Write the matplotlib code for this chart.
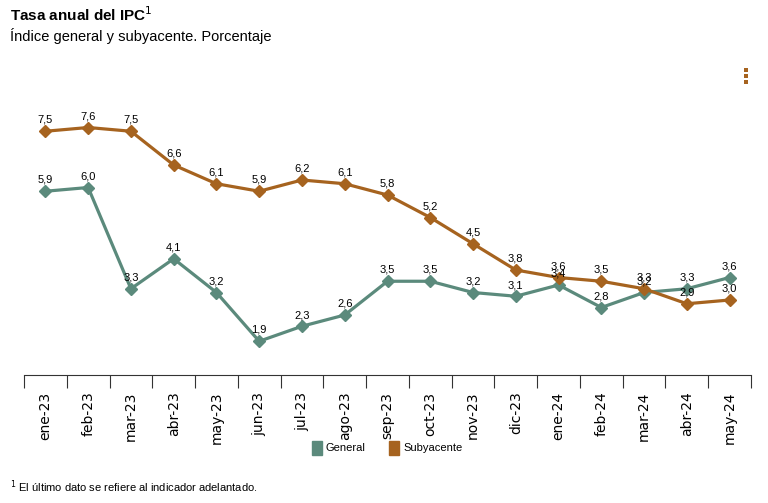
import numpy as np
import matplotlib.pyplot as plt
from matplotlib.patches import Rectangle

meses = ['ene-23', 'feb-23', 'mar-23', 'abr-23', 'may-23', 'jun-23', 'jul-23', 'ago-23',
         'sep-23', 'oct-23', 'nov-23', 'dic-23', 'ene-24', 'feb-24', 'mar-24', 'abr-24', 'may-24']
general = [5.9, 6.0, 3.3, 4.1, 3.2, 1.9, 2.3, 2.6, 3.5, 3.5, 3.2, 3.1, 3.4, 2.8, 3.2, 3.3, 3.6]
subyacente = [7.5, 7.6, 7.5, 6.6, 6.1, 5.9, 6.2, 6.1, 5.8, 5.2, 4.5, 3.8, 3.6, 3.5, 3.3, 2.9, 3.0]

c_gen = '#5b8a7c'
c_sub = '#a6631f'

fig = plt.figure(figsize=(7.68, 5.03), dpi=100)
ax = fig.add_axes([24 / 768, 1 - 375 / 503, 727 / 768, 300 / 503])

x = np.arange(len(meses))
ax.plot(x, general, color=c_gen, lw=2.3, marker='D', ms=6.5, zorder=3)
ax.plot(x, subyacente, color=c_sub, lw=2.3, marker='D', ms=6.5, zorder=3)

for serie in (general, subyacente):
    for xi, v in zip(x, serie):
        ax.annotate(f'{v:.1f}'.replace('.', ','), (xi, v), xytext=(0, 4.5),
                    textcoords='offset points', ha='center', va='bottom', fontsize=8,
                    family='Liberation Sans', zorder=4)

ax.set_xlim(-0.5, len(meses) - 0.5)
ax.set_ylim(1, 9)
for s in ['top', 'right', 'left']:
    ax.spines[s].set_visible(False)
ax.spines['bottom'].set_color('#333333')
ax.set_yticks([])
ax.set_xticks(np.arange(-0.5, len(meses), 1.0))
ax.set_xticklabels([])
ax.tick_params(axis='x', length=9, color='#333333', width=0.8)
ax.set_xticks(x, minor=True)
ax.set_xticklabels(meses, minor=True, rotation=90, fontsize=10, family='DejaVu Sans')
ax.tick_params(axis='x', which='minor', length=0, pad=12)

# leyenda
fig.patches.append(Rectangle((312 / 768, 1 - 455 / 503), 10 / 768, 14 / 503,
                             transform=fig.transFigure, color=c_gen))
fig.text(326 / 768, 1 - 448 / 503, 'General', fontsize=8, va='center',
         family='Liberation Sans')
fig.patches.append(Rectangle((389 / 768, 1 - 455 / 503), 10 / 768, 14 / 503,
                             transform=fig.transFigure, color=c_sub))
fig.text(403 / 768, 1 - 448 / 503, 'Subyacente', fontsize=8, va='center',
         family='Liberation Sans')

fig.text(10 / 768, 1 - 15 / 503, 'Tasa anual del IPC$^{1}$', fontsize=11, weight='bold',
         va='center', family='Liberation Sans')
fig.text(10 / 768, 1 - 36 / 503, 'Índice general y subyacente. Porcentaje', fontsize=10.5,
         va='center', family='Liberation Sans')
fig.text(10 / 768, 1 - 487 / 503, '$^{1}$ El último dato se refiere al indicador adelantado.',
         fontsize=8, va='center', family='Liberation Sans')

for yy in [70, 76, 82]:
    fig.patches.append(Rectangle((744 / 768, 1 - (yy + 2) / 503), 4 / 768, 4 / 503,
                                 transform=fig.transFigure, color=c_sub, lw=0))

fig.savefig('out.png', dpi=100)
